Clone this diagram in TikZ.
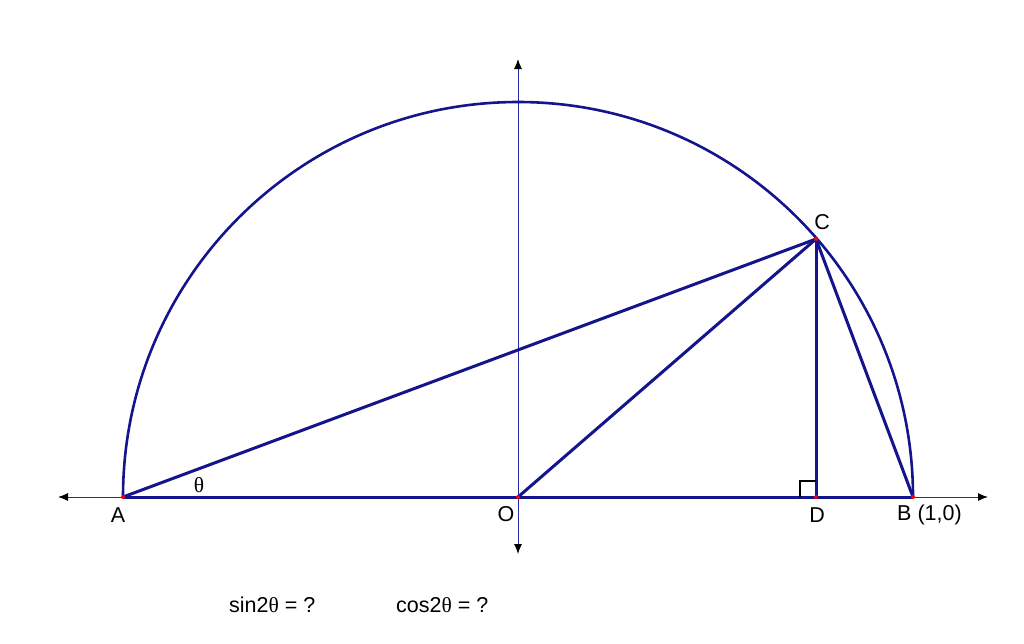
\documentclass[tikz,border=0pt]{standalone}
\usepackage{fontspec}
\setmainfont{Liberation Sans}
\newfontfamily\symf{Liberation Serif}
\usetikzlibrary{arrows.meta}
\definecolor{navy}{RGB}{20,20,140}
\definecolor{axisc}{RGB}{40,40,170}
\begin{document}
\begin{tikzpicture}[x=1pt,y=-1pt,
  thickline/.style={navy,line width=3pt},
  axisline/.style={axisc,line width=1pt},
  lbl/.style={font=\fontsize{21.5}{24}\selectfont,inner sep=0pt},
  pt/.style={circle,fill=red,inner sep=0pt,minimum size=4pt}]
\useasboundingbox (0,0) rectangle (1024,643);
\coordinate (O) at (518,497);
\coordinate (A) at (123,497);
\coordinate (B) at (913,497);
\coordinate (C) at (816,239);
\coordinate (D) at (816,497);
\coordinate (XL) at (58,497);
\coordinate (XR) at (988,497);
\coordinate (YT) at (518,59);
\coordinate (YB) at (518,554);
\coordinate (R1) at (800,497);
\coordinate (R2) at (800,481);
\coordinate (R3) at (816,481);
% axes
\draw[axisline,{Latex[black,length=10pt,width=8pt]}-{Latex[black,length=10pt,width=8pt]}] (XL) -- (XR);
\draw[axisline,{Latex[black,length=10pt,width=8pt]}-{Latex[black,length=10pt,width=8pt]}] (YB) -- (YT);
% semicircle
\draw[navy,line width=2.6pt] (B) arc[start angle=0,end angle=180,radius=395pt];
% segments
\draw[thickline] (A) -- (B);
\draw[thickline] (A) -- (C);
\draw[thickline] (O) -- (C);
\draw[thickline] (C) -- (D);
\draw[thickline] (C) -- (B);
% right angle
\draw[black,line width=2.4pt] (R1) -- (R2) -- (R3);
% points
\foreach \p in {A,O,C,D,B} \node[pt] (p\p) at (\p) {};
% labels
\node[lbl] (lA) at (118,515) {A};
\node[lbl] (lO) at (506,514) {O};
\node[lbl] (lD) at (817,515) {D};
\node[lbl,anchor=west] (lB) at (897,515) {B (1,0)};
\node[lbl] (lC) at (822,222) {C};
\node[lbl] (lth) at (199,485) {\symf θ};
\node[lbl,anchor=west] (s) at (229,605) {sin2{\symf θ} = ?};
\node[lbl,anchor=west] (c) at (396,605) {cos2{\symf θ} = ?};
\end{tikzpicture}
\end{document}
